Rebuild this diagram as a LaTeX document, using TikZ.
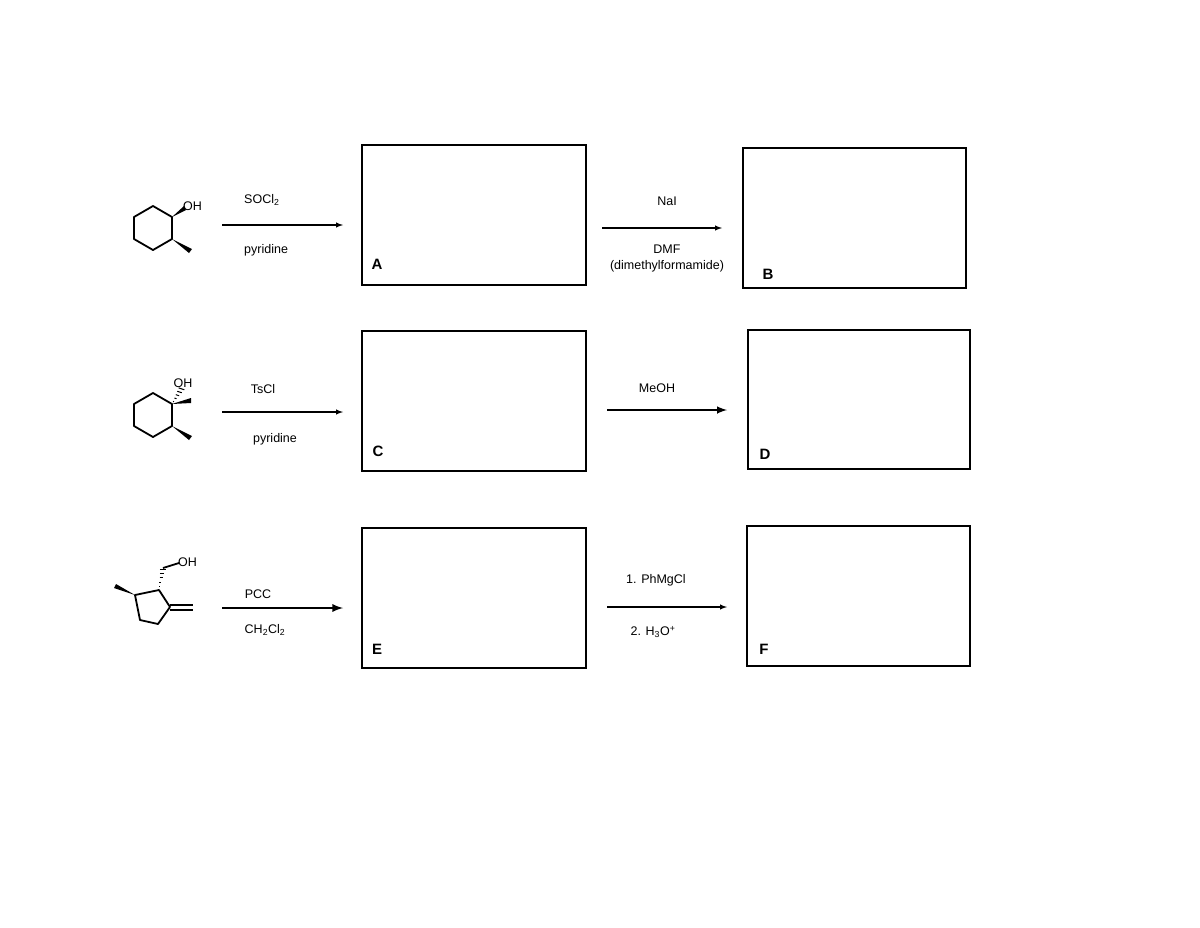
\documentclass[tikz,border=0pt]{standalone}
\usepackage{fontspec}
\setmainfont{Liberation Sans}
\usetikzlibrary{calc}
\begin{document}
\begin{tikzpicture}[x=1pt,y=-1pt,
  box/.style={draw,line width=1.6pt},
  rxn/.style={-latex,line width=1.2pt},
  lab/.style={font=\fontsize{12.5}{14}\selectfont,inner sep=0pt},
  big/.style={font=\fontsize{15}{17}\selectfont\bfseries,inner sep=0pt},
  bond/.style={line width=1.8pt,line join=round}]
\useasboundingbox (0,0) rectangle (1200,927);
% molecule 1
\draw[bond] (153,206)--(172,217)--(172,239)--(153,250)--(134,239)--(134,217)--cycle;
\fill (172,217)--(184,206)--(186,210)--cycle;
\node[lab,anchor=west] (oh1) at (183,206) {OH};
\fill (172,239)--(192,249)--(189,253)--cycle;
% molecule 2
\draw[bond] (153,393)--(172,404)--(172,426)--(153,437)--(134,426)--(134,404)--cycle;
\foreach \t in {0.15,0.35,0.55,0.75,0.95}
  \draw[line width=1pt] ($(172,404)!\t!(182,388)+(-\t*3,-\t*1)$)--($(172,404)!\t!(182,388)+(\t*3,\t*1)$);
\node[lab] (oh2) at (183,383) {OH};
\fill (172,404)--(191,398)--(191,403)--cycle;
\fill (172,426)--(192,436)--(189,440)--cycle;
% molecule 3
\draw[bond] (135,595)--(159,590)--(170,607)--(158,624)--(140,620)--cycle;
\fill (135,595)--(116,584)--(114,588)--cycle;
\foreach \t in {0.15,0.35,0.55,0.75,0.95}
  \draw[line width=1pt] ($(159,590)!\t!(163,568)+(-\t*3,0)$)--($(159,590)!\t!(163,568)+(\t*3,0)$);
\draw[bond] (163,568)--(179,563);
\node[lab,anchor=west] (oh3) at (178,562) {OH};
\draw[line width=1.5pt] (170,605)--(193,605) (170,610)--(193,610);
% row 1
\draw[rxn,line width=1.4pt] (222,225)--(343,225);
\node[lab,anchor=west] (r1a) at (244,200) {SOCl\textsubscript{2}};
\node[lab,anchor=west] (r1b) at (244,250) {pyridine};
\draw[box] (362,145) rectangle (586,285);
\node[big] (A) at (377,264) {A};
\draw[rxn,line width=1.4pt] (602,228)--(722,228);
\node[lab] (r2a) at (667,201) {NaI};
\node[lab] (r2b) at (667,249) {DMF};
\node[lab] (r2c) at (667,266) {(dimethylformamide)};
\draw[box] (743,148) rectangle (966,288);
\node[big] (B) at (768,274) {B};
% row 2
\draw[rxn,line width=1.4pt] (222,412)--(343,412);
\node[lab] (r3a) at (263,389) {TsCl};
\node[lab] (r3b) at (275,439) {pyridine};
\draw[box] (362,331) rectangle (586,471);
\node[big] (C) at (378,451) {C};
\draw[rxn,line width=2.4pt] (607,410)--(727,410);
\node[lab] (r4a) at (657,388) {MeOH};
\draw[box,line width=2.2pt] (748,330) rectangle (970,469);
\node[big] (D) at (765,454) {D};
% row 3
\draw[rxn,line width=2.6pt] (222,608)--(343,608);
\node[lab] (r5a) at (258,594) {PCC};
\node[lab] (r5b) at (265,630) {CH\textsubscript{2}Cl\textsubscript{2}};
\draw[box,line width=2.2pt] (362,528) rectangle (586,668);
\node[big] (E) at (377,649) {E};
\draw[rxn,line width=1.4pt] (607,607)--(727,607);
\node[lab] (r6a) at (656,580) {1. PhMgCl};
\node[lab] (r6b) at (653,632) {2. H\textsubscript{3}O\textsuperscript{+}};
\draw[box] (747,526) rectangle (970,666);
\node[big] (F) at (764,649) {F};
\end{tikzpicture}
\end{document}
